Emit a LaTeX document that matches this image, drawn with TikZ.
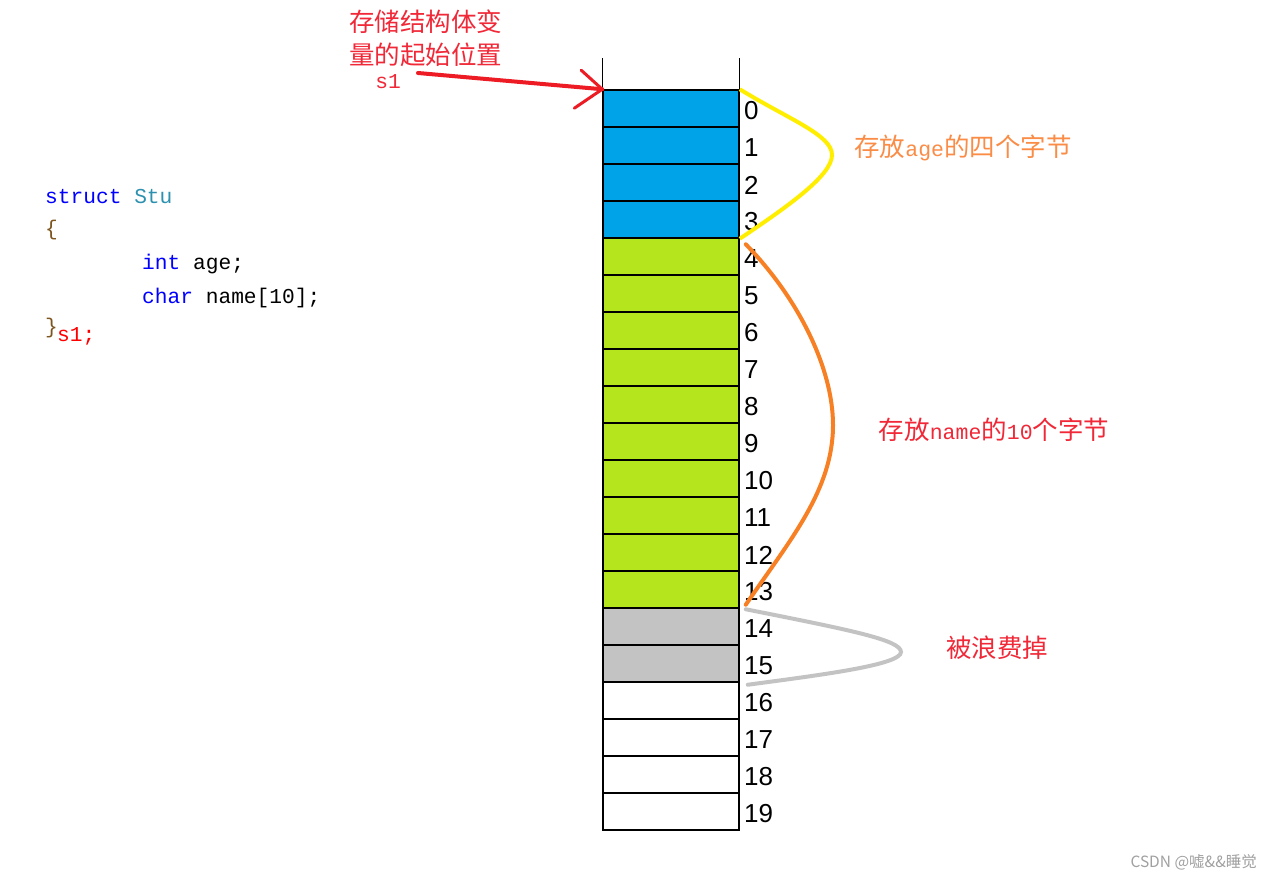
\documentclass[tikz,border=0pt]{standalone}
\usepackage{fontspec}
\newfontfamily\cjk{Noto Sans CJK SC}
\newfontfamily\codefont{Liberation Mono}
\newfontfamily\numfont{Liberation Sans}
\newcommand\notelatin[1]{{\codefont\fontsize{21.5}{33}\selectfont #1}}
\definecolor{cellblue}{RGB}{0,162,232}
\definecolor{cellgreen}{RGB}{181,230,29}
\definecolor{cellgray}{RGB}{195,195,195}
\definecolor{braceyellow}{RGB}{255,238,0}
\definecolor{braceorange}{RGB}{247,128,36}
\definecolor{arrowred}{RGB}{237,28,36}
\definecolor{notered}{RGB}{240,40,55}
\definecolor{noteorange}{RGB}{250,140,70}
\definecolor{kwblue}{RGB}{0,0,255}
\definecolor{typeteal}{RGB}{43,145,175}
\definecolor{bracebrown}{RGB}{125,85,30}
\definecolor{markgray}{RGB}{160,160,160}

\begin{document}
\begin{tikzpicture}
[x=1pt, y=-1pt, every node/.style={inner sep=0pt},
 cell/.style={rectangle, minimum width=136pt, minimum height=37pt, line width=1.5pt, draw=black},
 code/.style={anchor=base west, font=\codefont\fontsize{21.2}{25}\selectfont},
 note/.style={font=\cjk\fontsize{25.5}{33}\selectfont}]
\useasboundingbox (0,0) rectangle (1271,880);
% memory cells
\foreach \i in {0,...,19} {
  \ifnum\i<4 \def\c{cellblue}\else\ifnum\i<14 \def\c{cellgreen}\else\ifnum\i<16 \def\c{cellgray}\else\def\c{white}\fi\fi\fi
  \node (c\i) [cell, fill=\c] at (671, 108.5+37*\i) {};
  \node (n\i) [anchor=west, font=\numfont\fontsize{26}{26}\selectfont] at (744, 111+37*\i) {\i};
}
\draw [line width=1.2pt] (c0.north west) -- ++(0,-31);
\draw [line width=1.2pt] (c0.north east) -- ++(0,-31);
% struct code
\node (codeA) [code] at (45,203) {\textcolor{kwblue}{struct} \textcolor{typeteal}{Stu}};
\node (codeB) [code] at (45,235) {\textcolor{bracebrown}{\{}};
\node (codeC) [code] at (142,269) {\textcolor{kwblue}{int} age;};
\node (codeD) [code] at (142,303) {\textcolor{kwblue}{char} name[10];};
\node (codeE) [code] at (45,333) {\textcolor{bracebrown}{\}}};
\node (codeF) [code] at (57,341) {\textcolor{red}{s1;}};
% start address
\node (start) [note, align=left, text=notered] at (425.5,38.5) {存储结构体变\\量的起始位置};
\node (s1lbl) [code, anchor=center, text=notered] at (388,82) {s1};
\coordinate (tail) at (418,73);
\draw [line width=4pt, line cap=round, color=arrowred] (tail) -- (c0.north west);
\draw [line width=3pt, line cap=round, color=arrowred] (c0.north west) -- ++(-21,-19);
\draw [line width=3pt, line cap=round, color=arrowred] (c0.north west) -- ++(-28,19);
% braces
\draw [line width=4pt, color=braceyellow] (c0.north east) .. controls (790,120) and (832,135) .. (832,155) .. controls (832,175) and (790,205) .. (c3.south east);
\draw [line width=4pt, line cap=round, color=braceorange] ([xshift=6pt,yshift=-7pt]c4.north east) .. controls (800,300) and (833,370) .. (833,425) .. controls (833,490) and (790,540) .. ([xshift=6pt,yshift=4pt]c13.south east);
\draw [line width=4pt, line cap=round, color=cellgray] ([xshift=6pt,yshift=-2pt]c14.north east) .. controls (850,630) and (901,640) .. (901,652) .. controls (901,665) and (820,675) .. ([xshift=8pt,yshift=-2pt]c15.south east);
% notes
\node (agelbl) [note, text=noteorange] at (963,148) {存放\notelatin{age}的四个字节};
\node (namelbl) [note, text=notered] at (994,430) {存放\notelatin{name}的\notelatin{10}个字节};
\node (wastelbl) [note, text=notered] at (997,648) {被浪费掉};
\node (mark) [anchor=east, font=\cjk\fontsize{15.5}{15.5}\selectfont, text=markgray] at (1257,862) {CSDN @嘘\&\&睡觉};
\end{tikzpicture}
\end{document}
